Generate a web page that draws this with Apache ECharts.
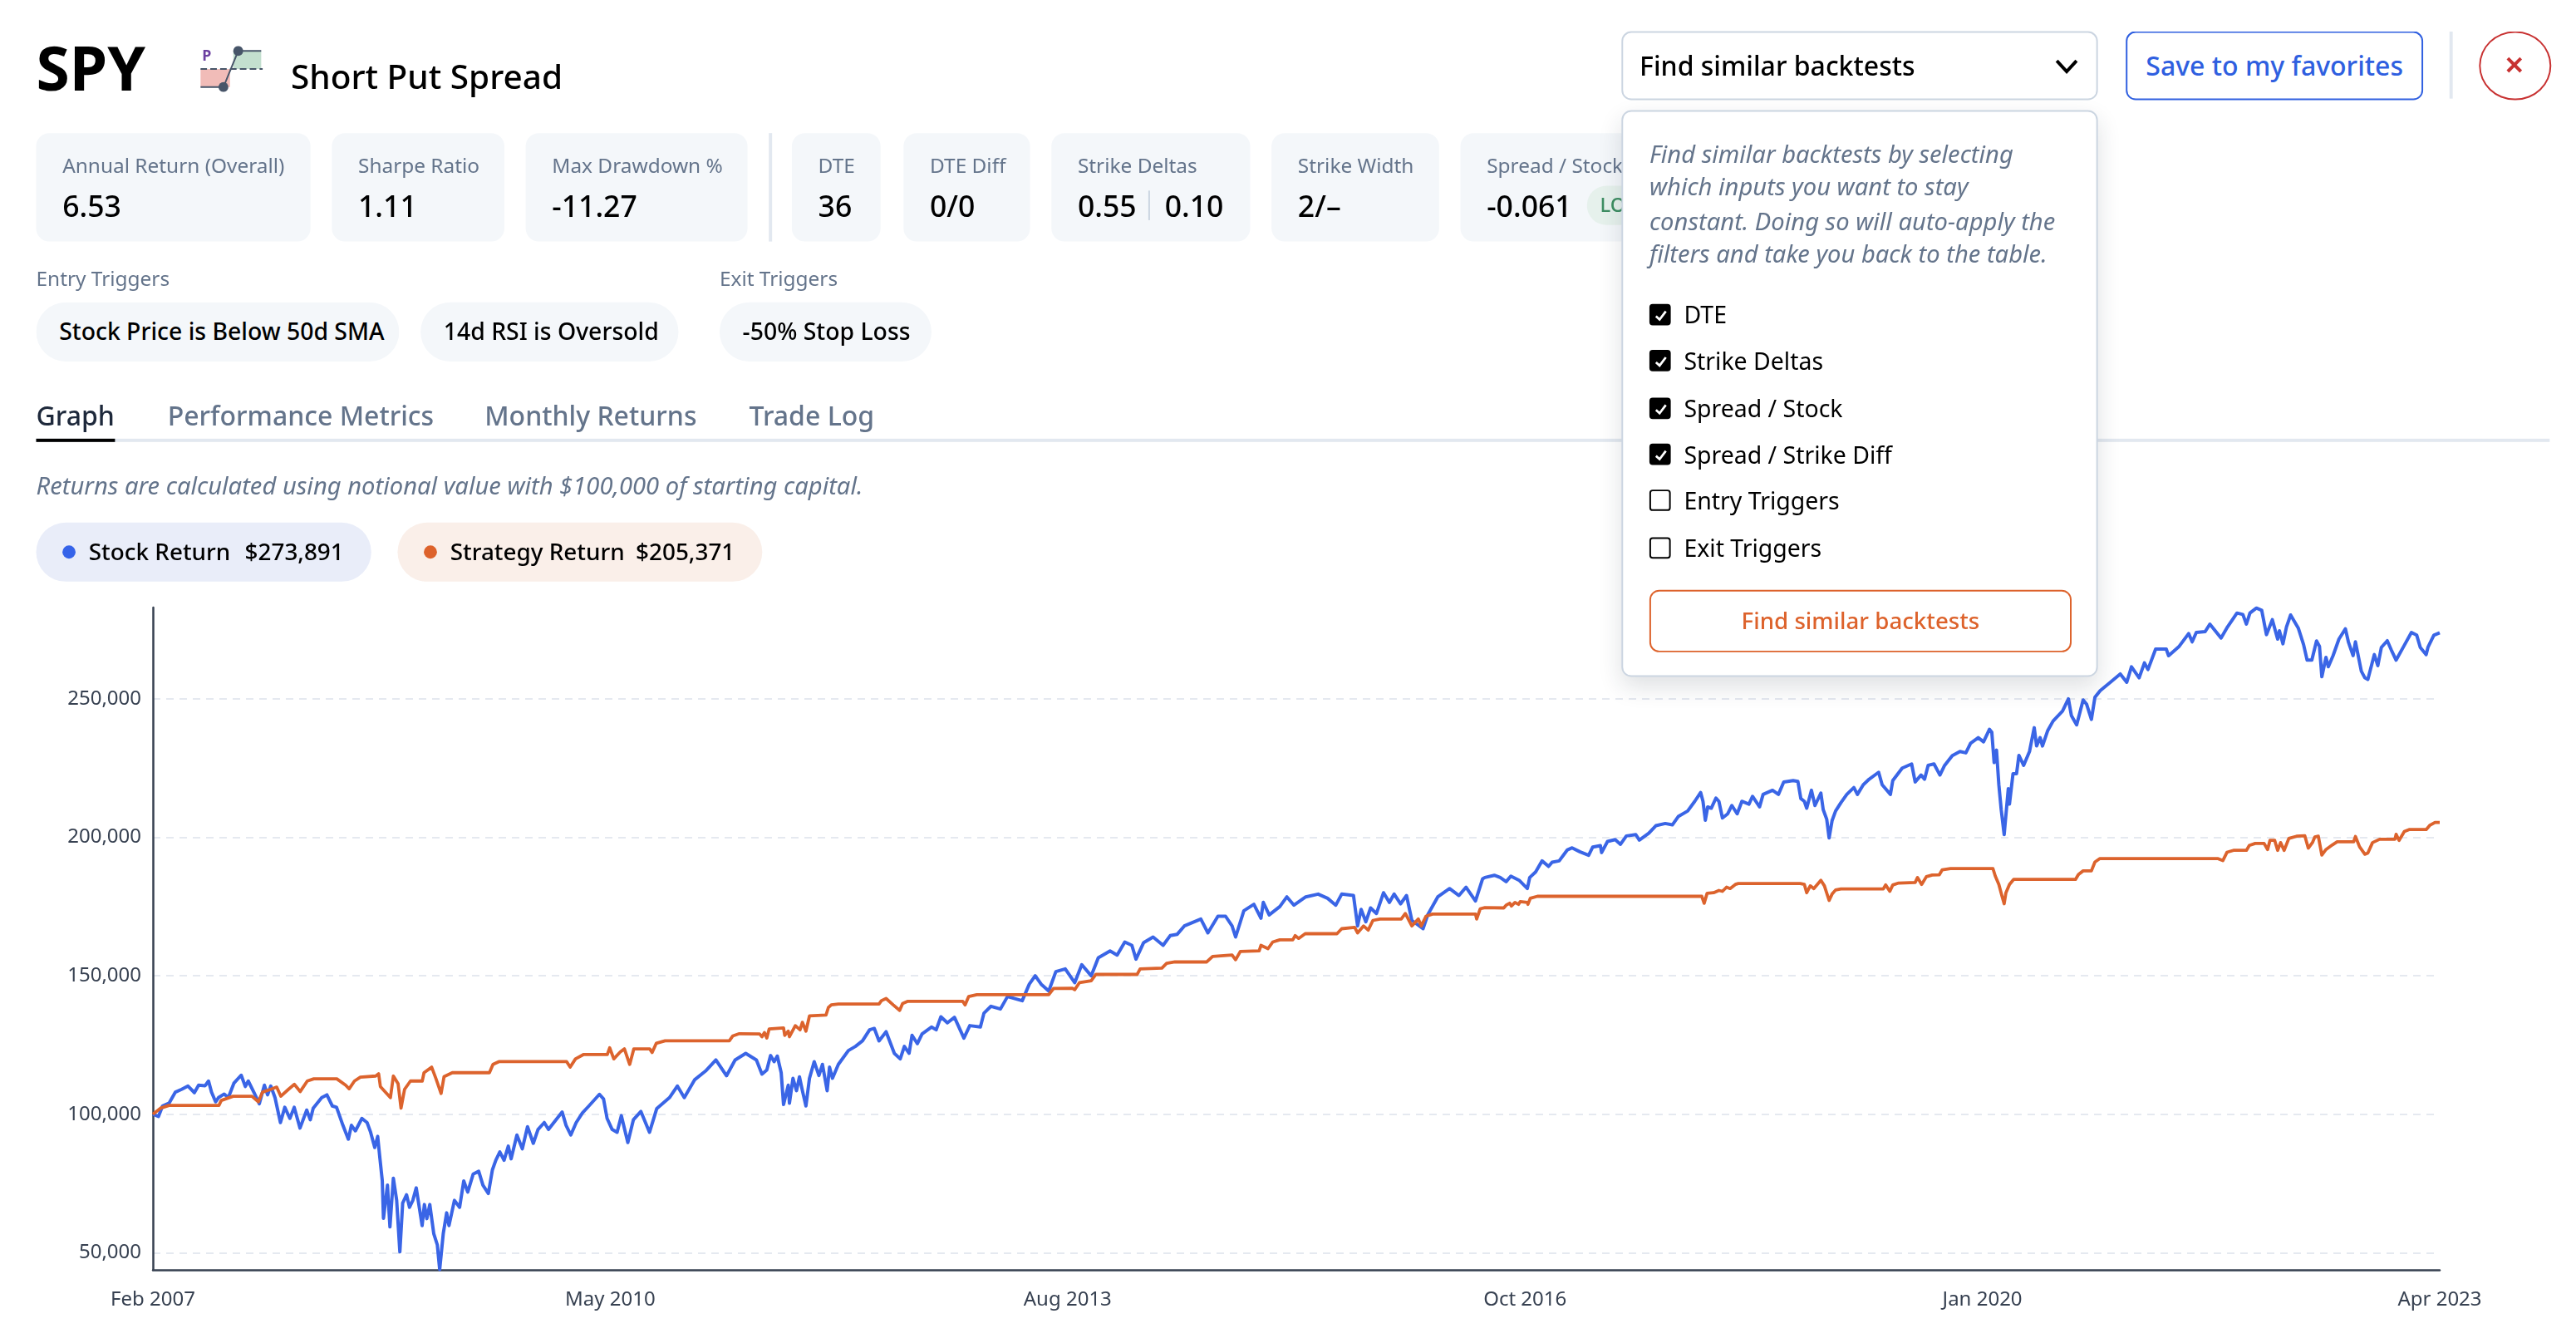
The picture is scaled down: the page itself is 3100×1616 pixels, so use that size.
<!DOCTYPE html>
<html>
<head>
<meta charset="utf-8">
<title>SPY Short Put Spread</title>
<script src="https://cdn.jsdelivr.net/npm/echarts@6/dist/echarts.min.js"></script>
<style>
html,body{margin:0;padding:0;background:#fff;}
body{width:3100px;height:1616px;overflow:hidden;position:relative;font-family:"Noto Sans",sans-serif;color:#000;}
#chart{position:absolute;left:0;top:0;width:3100px;height:1616px;}
/* page chrome is laid out at 1568px wide and scaled up to the window */
#ui{position:absolute;left:0;top:0;width:1568px;height:817px;transform:scale(1.977);transform-origin:0 0;}
#ui div,#ui span,#ui svg{position:absolute;white-space:nowrap;}
.tile{top:81px;height:66px;background:#f4f7fa;border-radius:8px;}
.lab{left:16px;top:12px;font-size:12.35px;line-height:16px;color:#64748b;}
.val{left:16px;top:31px;font-size:18px;line-height:26px;font-weight:500;}
.small{font-size:12.35px;line-height:16px;color:#64748b;top:162px;}
.chip{top:184px;height:36px;line-height:36px;background:#f4f7fa;border-radius:18px;font-size:14.35px;font-weight:500;text-indent:14px;}
.tab{top:241px;font-size:16.2px;line-height:24px;color:#64748b;font-weight:500;}
.pill{top:318px;height:36px;line-height:36px;border-radius:18px;font-size:14.1px;font-weight:500;}
.dot{top:14px;width:8px;height:8px;border-radius:50%;}
.box{top:19px;height:40px;line-height:40px;border-radius:6px;background:#fff;font-size:16.2px;font-weight:500;}
.note{left:16px;font-size:14.75px;line-height:20px;font-style:italic;color:#64748b;}
.cb{left:16px;width:11px;height:11px;border:1.5px solid #000;border-radius:2px;background:#fff;}
.cb.on{background:#000;}
.cbl{left:37px;font-size:14.4px;line-height:20px;}
</style>
</head>
<body>
<div id="chart"></div>
<div id="ui">
    <div style="left:22px;top:16px;font-size:37px;line-height:50px;font-weight:700;">SPY</div>
    <svg style="left:122px;top:28px;" width="38" height="28" viewBox="0 0 38 28">
        <rect x="20" y="3" width="17" height="11" fill="#c3dfcf"></rect>
        <rect x="0" y="14" width="18" height="11" fill="#f1bcb8"></rect>
        <path d="M0 14H38" stroke="#475569" stroke-width="1" stroke-dasharray="4 2"></path>
        <path d="M0 25H14L23 3H37" stroke="#475569" stroke-width="1" fill="none"></path>
        <circle cx="14" cy="25" r="3" fill="#475569"></circle>
        <circle cx="23" cy="3" r="3" fill="#475569"></circle>
        <text x="1" y="9" font-size="9" font-weight="700" fill="#6b3fa0" font-family="Noto Sans">P</text>
    </svg>
    <div style="left:177px;top:31px;font-size:20.5px;line-height:30px;font-weight:500;">Short Put Spread</div>

    <div class="tile" style="left:22px;width:167px;"><div class="lab">Annual Return (Overall)</div><div class="val">6.53</div></div>
    <div class="tile" style="left:202px;width:105px;"><div class="lab">Sharpe Ratio</div><div class="val">1.11</div></div>
    <div class="tile" style="left:320px;width:135px;"><div class="lab">Max Drawdown %</div><div class="val">-11.27</div></div>
    <div style="left:468px;top:81px;width:2px;height:66px;background:#e2e8f0;"></div>
    <div class="tile" style="left:482px;width:54px;"><div class="lab">DTE</div><div class="val">36</div></div>
    <div class="tile" style="left:550px;width:77px;"><div class="lab">DTE Diff</div><div class="val">0/0</div></div>
    <div class="tile" style="left:640px;width:121px;"><div class="lab">Strike Deltas</div><div class="val">0.55</div><div style="left:59px;top:35px;width:1px;height:18px;background:#cbd5e1;"></div><div class="val" style="left:69px;">0.10</div></div>
    <div class="tile" style="left:774px;width:102px;"><div class="lab">Strike Width</div><div class="val">2/–</div></div>
    <div class="tile" style="left:889px;width:140px;"><div class="lab">Spread / Stock</div><div class="val">-0.061</div>
        <div style="left:77px;top:32px;width:50px;height:24px;line-height:24px;background:#e6f1ec;border-radius:12px;font-size:12px;font-weight:500;color:#3e8e63;text-indent:8px;">LOW</div></div>

    <div class="small" style="left:22px;">Entry Triggers</div>
    <div class="small" style="left:438px;">Exit Triggers</div>
    <div class="chip" style="left:22px;width:221px;">Stock Price is Below 50d SMA</div>
    <div class="chip" style="left:256px;width:157px;">14d RSI is Oversold</div>
    <div class="chip" style="left:438px;width:129px;">-50% Stop Loss</div>

    <div class="tab" style="left:22px;color:#1e293b;">Graph</div>
    <div class="tab" style="left:102px;">Performance Metrics</div>
    <div class="tab" style="left:295px;">Monthly Returns</div>
    <div class="tab" style="left:456px;">Trade Log</div>
    <div style="left:22px;top:267px;width:1530px;height:2px;background:#e2e8f0;"></div>
    <div style="left:22px;top:267px;width:48px;height:2px;background:#000;"></div>

    <div style="left:22px;top:285px;font-size:14.75px;line-height:20px;font-style:italic;color:#64748b;">Returns are calculated using notional value with $100,000 of starting capital.</div>

    <div class="pill" style="left:22px;width:204px;background:#e9edf9;"><div class="dot" style="left:16px;background:#3563e9;"></div><div style="left:32px;">Stock Return</div><div style="left:127px;">$273,891</div></div>
    <div class="pill" style="left:242px;width:222px;background:#faefe9;"><div class="dot" style="left:16px;background:#dd622b;"></div><div style="left:32px;">Strategy Return</div><div style="left:145px;">$205,371</div></div>

    <div class="box" style="left:987px;width:288px;border:1px solid #cbd5e1;"><div style="left:10px;">Find similar backtests</div>
        <svg style="left:262px;top:15px;" width="16" height="11" viewBox="0 0 16 11"><path d="M2 2L8 8.5L14 2" stroke="#000" stroke-width="2" fill="none"></path></svg></div>
    <div class="box" style="left:1294px;width:179px;border:1px solid #2f5fe0;color:#2f5fe0;text-align:center;">Save to my favorites</div>
    <div style="left:1491px;top:19px;width:2px;height:41px;background:#e2e8f0;"></div>
    <div style="left:1509px;top:19px;width:41.5px;height:40px;border:1px solid #c83232;border-radius:50%;"></div>
    <svg style="left:1525px;top:34px;" width="11" height="11" viewBox="0 0 11 11"><path d="M1.5 1.5L9.5 9.5M9.5 1.5L1.5 9.5" stroke="#c83232" stroke-width="2"></path></svg>

    <div style="left:987px;top:67px;width:288px;height:343px;background:#fff;border:1px solid #cbd5e1;border-radius:6px;box-shadow:0 6px 14px rgba(30,41,59,.14);">
        <div class="note" style="top:14.5px;">Find similar backtests by selecting</div>
        <div class="note" style="top:34.5px;">which inputs you want to stay</div>
        <div class="note" style="top:55.5px;">constant. Doing so will auto-apply the</div>
        <div class="note" style="top:75.5px;">filters and take you back to the table.</div>
        <div class="cb on" style="top:116.5px;"></div><div class="cbl" style="top:113.5px;">DTE</div>
        <div class="cb on" style="top:144.5px;"></div><div class="cbl" style="top:141.5px;">Strike Deltas</div>
        <div class="cb on" style="top:173.5px;"></div><div class="cbl" style="top:170.5px;">Spread / Stock</div>
        <div class="cb on" style="top:201.5px;"></div><div class="cbl" style="top:198.5px;">Spread / Strike Diff</div>
        <div class="cb" style="top:229.5px;"></div><div class="cbl" style="top:226.5px;">Entry Triggers</div>
        <div class="cb" style="top:258.5px;"></div><div class="cbl" style="top:255.5px;">Exit Triggers</div>
        <svg style="left:18px;top:118.5px;" width="10" height="10" viewBox="0 0 10 10"><path d="M2 5.5L4.2 7.5L8 2.5" stroke="#fff" stroke-width="1.4" fill="none"></path></svg>
        <svg style="left:18px;top:146.5px;" width="10" height="10" viewBox="0 0 10 10"><path d="M2 5.5L4.2 7.5L8 2.5" stroke="#fff" stroke-width="1.4" fill="none"></path></svg>
        <svg style="left:18px;top:175.5px;" width="10" height="10" viewBox="0 0 10 10"><path d="M2 5.5L4.2 7.5L8 2.5" stroke="#fff" stroke-width="1.4" fill="none"></path></svg>
        <svg style="left:18px;top:203.5px;" width="10" height="10" viewBox="0 0 10 10"><path d="M2 5.5L4.2 7.5L8 2.5" stroke="#fff" stroke-width="1.4" fill="none"></path></svg>
        <div style="left:16px;top:291px;width:255px;height:36px;line-height:36px;border:1px solid #dd622b;border-radius:6px;font-size:14px;font-weight:500;color:#dd622b;text-align:center;">Find similar backtests</div>
    </div>
</div>
<script>
// x positions are months since Feb 2007, values are thousands of dollars
var xTickLabels = ['Feb 2007', 'May 2010', 'Aug 2013', 'Oct 2016', 'Jan 2020', 'Apr 2023'];
var yTicks = [50000, 100000, 150000, 200000, 250000];

var stockMonths = [
    0, .47, .82, 1.37, 1.91, 2.44, 2.98, 3.52, 3.88, 4.43, 4.72, 4.97, 5.32, 5.56, 6.05, 6.4, 6.87, 7.49, 7.84, 8.09,
    8.56, 9.03, 9.46, 9.73, 10, 10.36, 10.82, 11.19, 11.62, 11.99, 12.48, 13.05, 13.35, 13.6, 14.32, 14.76, 15.22, 15.58, 16.12, 16.58,
    16.84, 17.18, 17.73, 18.17, 18.47, 18.82, 19.07, 19.26, 19.46, 19.56, 19.9, 20.11, 20.4, 20.68, 20.95, 21.19, 21.52, 21.77, 22.05, 22.34,
    22.84, 23.03, 23.24, 23.49, 23.83, 24.13, 24.33, 24.63, 24.92, 25.12, 25.58, 26.02, 26.37, 26.71, 27.17, 27.64, 28, 28.46, 28.8, 29.09,
    29.43, 29.79, 30.15, 30.39, 30.88, 31.34, 31.78, 32.27, 32.67, 33.2, 33.56, 34.11, 34.72, 35.05, 35.45, 35.91, 36.44, 36.99, 37.88, 38.23,
    38.53, 38.96, 39.38, 39.74, 40.29, 40.76, 41.4, 42.13, 42.74, 43.82, 44.49, 45.08, 45.97, 46.88, 47.76, 48.66, 49.39, 50.29, 51.2, 51.67,
    52.08, 52.4, 52.7, 52.97, 53.3, 53.5, 53.9, 54, 54.3, 54.6, 54.85, 55.1, 55.4, 55.7, 56.1, 56.5, 56.8, 57.2, 57.4, 57.65,
    58.15, 59, 59.6, 60.2, 60.8, 61.2, 61.6, 62.2, 62.9, 63.4, 63.75, 64.15, 64.4, 64.85, 65.25, 66.05, 66.45, 66.85, 67.4, 68,
    68.8, 69.3, 70.2, 70.5, 71.1, 71.9, 72.5, 73.75, 74.35, 74.85, 75.35, 76, 76.6, 77.4, 78.2, 78.8, 79.6, 80.2, 81.2, 81.8,
    82.45, 83.05, 83.4, 84.05, 84.85, 85.7, 86.3, 86.9, 87.5, 88.9, 89.5, 90.35, 91, 91.55, 91.85, 92.55, 93.4, 94, 94.2, 94.7,
    95.6, 96.2, 96.8, 97.8, 98.85, 99.65, 100.35, 100.85, 101.85, 102.2, 102.5, 102.9, 103.3, 103.8, 104.4, 104.9, 105.3, 105.85, 106.35, 106.8,
    107.75, 108.15, 109, 110, 110.8, 111.4, 112.2, 112.8, 113, 113.8, 114.3, 114.8, 115.2, 115.9, 116.6, 116.8, 117.3, 117.85, 118.4, 118.7,
    119.3, 120, 120.4, 121.05, 121.8, 122.15, 122.8, 122.9, 123.4, 124.05, 124.5, 125, 125.8, 126.1, 126.9, 127.5, 128.3, 128.9, 129.4, 130.2,
    130.8, 131.3, 131.5, 131.7, 131.9, 132.2, 132.6, 132.85, 133.15, 133.6, 133.95, 134.4, 134.8, 135.4, 135.7, 136.3, 136.6, 137.4, 137.9, 138.35,
    139.15, 139.55, 139.8, 140.1, 140.3, 140.7, 141, 141.5, 141.7, 142, 142.2, 142.45, 142.75, 143.2, 143.7, 144.3, 144.6, 145.1, 145.6, 146.4,
    146.7, 147.4, 147.6, 148.4, 149.2, 149.5, 150, 150.3, 150.6, 151.1, 151.6, 152, 152.65, 153.3, 153.8, 154.2, 154.85, 155.3, 155.8, 156,
    156.2, 156.4, 156.6, 156.8, 157.05, 157.4, 157.5, 157.8, 158.1, 158.3, 158.7, 159.2, 159.6, 159.8, 160.1, 160.3, 160.75, 161.2, 162, 162.5,
    162.75, 163.2, 163.75, 164.05, 164.45, 164.75, 165.2, 165.95, 166.9, 167.45, 167.85, 168.5, 168.95, 169.25, 169.9, 170.8, 171, 171.9, 172.7, 173,
    173.35, 174.1, 174.5, 175.45, 176, 176.8, 177.3, 177.6, 177.9, 178.45, 178.9, 179.3, 179.8, 180.25, 180.4, 180.7, 181, 181.35, 182, 182.45,
    182.75, 183.15, 183.55, 183.8, 184, 184.35, 184.55, 184.95, 185.45, 186, 186.25, 186.65, 186.85, 187.35, 187.65, 187.9, 188.45, 188.75, 189.05, 189.55,
    189.9, 190.3, 190.95, 191.6, 192.05, 192.35, 192.85, 193, 193.5, 194
];
var stockValues = [
    100, 99.2, 103, 104, 108, 109, 110.2, 107.8, 110.5, 110.3, 112, 108, 104.5, 106, 107.3, 106, 111.2, 114.1, 110, 112,
    108, 103.8, 110.5, 107, 110.2, 106, 97, 102.5, 98.5, 102.5, 95, 101.5, 98, 102.2, 106, 107, 103, 102.5, 96, 91,
    96, 94, 98.5, 97, 93.5, 88, 92, 84, 76, 62.4, 74.4, 59.3, 76.9, 68.9, 50.3, 67.9, 70.9, 66.4, 68.9, 73.4,
    59.8, 67.4, 62.3, 67.4, 56.8, 52.8, 43.9, 56.8, 64.4, 59.8, 68.9, 66.4, 75.9, 71.9, 78.4, 79.4, 74.4, 71.4, 79.9, 83.4,
    86.4, 83.4, 88.5, 83.9, 92.5, 87.5, 95.5, 89.5, 94.5, 97, 94.5, 97.5, 100.8, 96, 92.5, 97, 100.5, 103, 107.2, 105.5,
    98.5, 94.5, 93.5, 99.5, 89.8, 98, 101, 93.5, 102, 106, 110.2, 106, 112.5, 115.6, 119.6, 113.9, 119.6, 122, 119.6, 114.5,
    116, 121.2, 119, 121, 115, 103.5, 110.5, 104, 113, 108.5, 113.5, 108.5, 103, 113, 119, 114, 118, 108.5, 117, 113,
    118, 123, 124.5, 126.5, 130.5, 131, 126.5, 129.8, 122, 120, 124.5, 122, 128.5, 125.5, 129, 131.5, 130.5, 135.2, 133, 135,
    127.5, 132, 131.5, 136.5, 139, 138, 142.5, 141, 147, 150, 147, 144.5, 151.5, 152.5, 147.5, 154, 150, 156.5, 159, 157.5,
    162.2, 161, 156, 162, 164, 161, 164.5, 165, 168, 170.5, 165.5, 171.5, 171.5, 168, 164, 173.5, 175.8, 170.8, 176.5, 172,
    175, 178.5, 175.5, 178.5, 179.5, 178, 175.5, 179.5, 179, 168, 174, 169.5, 174.5, 172.5, 180, 176.5, 179.5, 176, 179, 170,
    167, 172, 178.5, 181.5, 179, 182, 177, 185, 185.5, 186.3, 185.5, 184, 186, 184.5, 181.5, 185.5, 187.5, 191.5, 189.5, 191,
    191.5, 195.5, 196.2, 194.8, 193.5, 196.5, 197, 194.5, 198.5, 199.2, 197.5, 200.5, 201, 199, 201.5, 204.2, 205, 204.5, 207.5, 209.5,
    213, 216.2, 213, 206.2, 211, 210.5, 214.2, 213, 207, 208.5, 211.5, 208.5, 213, 212, 214.8, 211, 215.5, 217, 215.5, 220,
    220.5, 220.2, 214, 213, 210.5, 217, 211.5, 216, 210, 206.5, 199.8, 206, 209.5, 212.5, 215.5, 218, 215.5, 219, 221, 223.5,
    219, 215.5, 220.5, 225, 226.5, 220, 222.5, 221, 226, 226.5, 222.5, 226, 229.5, 231, 230.5, 234, 236, 234.5, 239, 238,
    227, 231.5, 219, 210, 201, 217.6, 212, 223, 223, 229.6, 226, 231, 239.6, 233, 236, 233, 238.6, 242, 245.6, 250,
    244, 240.6, 249.6, 248, 242.6, 250.6, 253, 255.6, 259, 256, 261.6, 257.6, 263, 260.6, 268, 268, 265.6, 269, 273.6, 270.6,
    274, 274.3, 277, 272, 276, 281, 280.5, 277, 281, 282.8, 282, 273.2, 278.6, 271.6, 274.6, 269.9, 276, 280.3, 275.6, 269.6,
    264, 264, 270.9, 269, 258, 265, 261.6, 265.6, 271.6, 275.3, 270.6, 265.6, 270.6, 260, 257.6, 257, 266, 262, 268.6, 271,
    267.6, 264, 269, 274, 273, 268.6, 266, 268.6, 273, 273.9
];

var strategyMonths = [
    0, .65, 1.37, 5.6, 5.8, 6.8, 8.4, 8.95, 9.3, 10, 10.5, 10.85, 11.5, 12, 12.5, 13.1, 13.65, 15.6, 16.35, 16.65,
    17.1, 17.6, 18.9, 19.15, 19.3, 20.15, 20.4, 20.8, 21.05, 21.35, 21.85, 22.85, 23, 23.65, 24, 24.45, 24.7, 25.4, 28.55, 28.85,
    29.35, 35.1, 35.4, 35.85, 36.55, 38.55, 38.75, 39.1, 39.65, 40, 40.45, 40.8, 42.15, 42.35, 42.7, 43.45, 48.9, 49.2, 49.75, 51.47,
    51.67, 51.88, 52.08, 52.28, 53.5, 53.6, 53.9, 54, 54.5, 54.9, 55.1, 55.4, 55.7, 57.1, 57.3, 57.55, 58.15, 61.6, 61.8, 62.2,
    62.8, 63.35, 63.6, 64.05, 68.7, 68.9, 69.2, 69.9, 76, 76.4, 78, 78.2, 78.6, 79.6, 80, 83.5, 83.75, 85.6, 86, 86.7,
    89.4, 89.9, 91.55, 91.85, 92.25, 93.85, 94, 94.6, 95, 95.6, 96.7, 96.9, 97.2, 97.75, 100.45, 100.85, 101.95, 102.2, 102.7, 103.1,
    103.5, 104.1, 105.9, 106.25, 106.8, 107.35, 107.6, 108, 108.55, 112.2, 112.3, 112.6, 113, 114.6, 114.8, 115.1, 115.25, 115.55, 115.85, 116,
    116.6, 116.65, 116.85, 117.45, 131.4, 131.6, 131.85, 132.4, 132.85, 133.15, 133.5, 133.8, 134.25, 134.5, 139.75, 140.1, 140.3, 140.6, 140.9, 141.2,
    141.5, 141.8, 142.2, 142.45, 142.75, 143.2, 146.8, 147, 147.35, 147.6, 148.1, 149.5, 149.7, 150.05, 150.45, 150.95, 151.55, 151.8, 152.5, 156.1,
    156.3, 156.6, 156.85, 157.05, 157.2, 157.5, 157.85, 163.1, 163.35, 163.75, 164.45, 164.75, 165.15, 175.2, 175.6, 175.95, 176.5, 177.6, 177.85, 178.35,
    179.1, 179.4, 179.6, 180, 180.25, 180.5, 180.8, 181.2, 181.85, 182.55, 182.85, 183.2, 183.4, 183.7, 184, 184.35, 184.9, 185.3, 186.7, 186.85,
    187.2, 187.65, 187.9, 188.3, 188.9, 190.2, 190.3, 190.55, 191, 191.4, 192.85, 193.15, 193.6, 194
];
var strategyValues = [
    100, 102.2, 103.2, 103.2, 105, 106.5, 106.5, 104.5, 108, 109, 109.8, 106.5, 109, 110.8, 108.2, 112, 112.8, 112.8, 110.5, 109.2,
    112, 113.4, 113.8, 114.6, 110, 106, 113.8, 111, 102.2, 109, 112, 112, 115, 117, 113, 107.5, 113.6, 115, 115, 118,
    119, 119, 117, 120, 121.6, 121.6, 124, 120, 122.5, 123.6, 118, 123.6, 123.6, 122.3, 125.6, 126.5, 126.5, 128.3, 129.1, 129,
    128, 129.5, 127.5, 130.8, 131.2, 128.5, 130, 128, 132, 130.5, 133.2, 130, 135.5, 135.8, 138.5, 139.5, 139.8, 139.8, 141, 141.8,
    139.5, 137.5, 140, 140.8, 140.8, 139.5, 142.5, 143.2, 143.2, 145.4, 145.5, 145, 147.5, 148.2, 150.5, 150.5, 152.5, 152.8, 154.5, 155,
    155, 157, 157.5, 155.8, 158.8, 159, 161, 159.8, 162.2, 163, 163, 164.5, 163.5, 165.2, 165.2, 167, 167.5, 165.5, 168, 166.5,
    170, 170.5, 170.5, 172.5, 168, 170.5, 168, 171.5, 172.3, 172.3, 170.5, 174.2, 174.6, 174.5, 175.5, 176.2, 175.2, 176.5, 175.8, 176.8,
    176.5, 175.8, 178, 178.7, 178.7, 176.2, 179.8, 180, 180.8, 180.5, 182, 181.5, 183, 183.3, 183.3, 183, 180, 182.5, 181.5, 183,
    184.5, 182.5, 177.2, 179.5, 181, 181.4, 181.4, 182.8, 180.5, 182.8, 183.5, 183.7, 185.5, 183, 185.8, 186.4, 186.5, 188.3, 188.7, 188.7,
    186, 183, 179, 176, 180, 183, 184.8, 184.8, 186.6, 187.9, 187.9, 191.1, 192.3, 192.3, 191.6, 194.6, 195.3, 195.3, 197.1, 197.8,
    197.8, 195.6, 198.9, 198.9, 195.3, 198.1, 195.3, 199.6, 200.4, 200.6, 196.1, 198.1, 200.1, 200.4, 193.6, 195.6, 197.3, 198.4, 198.4, 200.3,
    196.6, 193.9, 194.3, 198.1, 199.3, 199.3, 201.1, 198.9, 202.1, 202.8, 202.8, 204.3, 205.4, 205.4
];

function toPoints(months, values) {
    var points = [];
    for (var i = 0; i < months.length; i++) {
        points.push([months[i], values[i] * 1000]);
    }
    return points;
}

var myChart = echarts.init(document.getElementById('chart'));
var axisColor = '#374151';
var option = {
    animation: false,
    backgroundColor: '#fff',
    textStyle: { fontFamily: 'Noto Sans' },
    grid: { left: 184, right: 164, top: 731, bottom: 88 },
    xAxis: {
        type: 'value',
        min: 0,
        max: 194,
        interval: 38.8,
        splitLine: { show: false },
        axisTick: { show: false },
        axisLine: { lineStyle: { color: axisColor, width: 2.5 } },
        axisLabel: {
            color: axisColor,
            fontSize: 24,
            margin: 24,
            formatter: function (value) {
                return xTickLabels[Math.round(value / 38.8)];
            }
        }
    },
    yAxis: {
        type: 'value',
        min: 43800,
        max: 283000,
        axisLine: { show: true, lineStyle: { color: axisColor, width: 2.5 } },
        axisTick: { show: false, customValues: yTicks },
        axisLabel: {
            color: axisColor,
            fontSize: 24,
            margin: 14,
            customValues: yTicks,
            formatter: function (value) {
                return value.toLocaleString('en-US');
            }
        },
        splitLine: { show: true, lineStyle: { color: '#e5e9f0', width: 2, type: [9, 7] } }
    },
    series: [
        {
            name: 'Stock Return',
            type: 'line',
            showSymbol: false,
            lineStyle: { color: '#3a65e6', width: 4, join: 'round' },
            data: toPoints(stockMonths, stockValues)
        },
        {
            name: 'Strategy Return',
            type: 'line',
            showSymbol: false,
            lineStyle: { color: '#dc632d', width: 3.8, join: 'round' },
            data: toPoints(strategyMonths, strategyValues)
        }
    ]
};
myChart.setOption(option);
</script>
</body>
</html>
